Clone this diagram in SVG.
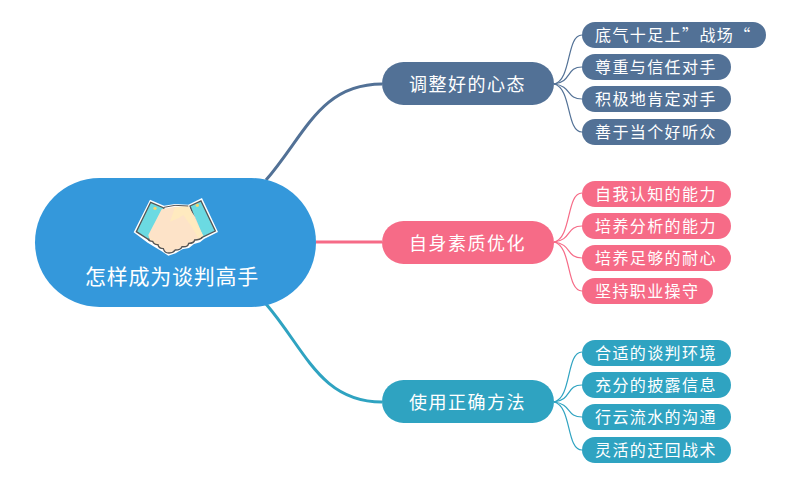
<svg xmlns="http://www.w3.org/2000/svg" width="800" height="483" viewBox="0 0 800 483">
<style>
text{font-family:"Noto Sans CJK SC","Noto Sans",sans-serif;fill:#fff;dominant-baseline:central}
.m{font-size:18px;letter-spacing:1.5px}.s{font-size:16px;letter-spacing:1.4px}.r{font-size:21px;letter-spacing:.75px}
.c path{fill:none}
.a{stroke:#527196}.b{stroke:#f66b87}.d{stroke:#2fa3c1}
.A{fill:#527196}.B{fill:#f66b87}.D{fill:#2fa3c1}
</style>
<rect width="800" height="483" fill="#fff"/>
<g id="connectors" class="c">
<path class="a" stroke-width="3" d="M266 180C305 135 320 84 382 84"/>
<path class="b" stroke-width="3" d="M316 242H382"/>
<path class="d" stroke-width="3" d="M266 304C305 349 320 402 382 402"/>
<g class="a" stroke-width="1.2"><path d="M554 84C572 80 566 35 582 35"/><path d="M554 84C572 82 566 67 582 67"/><path d="M554 84C572 86 566 99 582 99"/><path d="M554 84C572 88 566 132 582 132"/></g>
<g class="b" stroke-width="1.2"><path d="M554 242C572 238 566 193 582 193"/><path d="M554 242C572 240 566 226 582 226"/><path d="M554 242C572 244 566 258 582 258"/><path d="M554 242C572 246 566 291 582 291"/></g>
<g class="d" stroke-width="1.2"><path d="M554 402C572 398 566 352 582 352"/><path d="M554 402C572 400 566 385 582 385"/><path d="M554 402C572 404 566 417 582 417"/><path d="M554 402C572 406 566 450 582 450"/></g>
</g>
<g id="root">
<rect x="35" y="178" width="281" height="129" rx="64.5" fill="#3498db"/>
<g transform="translate(120 190) scale(.3333)">
<path d="M90 29L132 47 165 42 205 44 246 24 294 126 252 147 240 157 222 162 207 174 187 178 167 190 145 197 125 184 105 172 83 158 41 127Z" fill="#fff"/>
<path d="M92 37L132 54 88 150 49 125Z" fill="#6bdae2" stroke="#555" stroke-width="4"/>
<path d="M243 33L286 123 245 143 210 48Z" fill="#6bdae2" stroke="#555" stroke-width="4"/>
<path d="M125 58L165 50 205 50 225 80 248 135 238 148 222 155 205 167 185 171 165 183 146 189 128 177 108 165 90 152 85 135Z" fill="#fde3c8"/>
<path d="M150 95L165 52 205 48 230 100 250 137 236 146 215 110 190 75 175 85Z" fill="#ffeabf"/>
<path d="M85 135L110 165 125 172 100 150Z" fill="#ffeabf"/>
<path d="M84 146Q86 154 98 154Q102 165 114 164Q116 176 130 176Q134 190 148 189Q160 189 166 180Q182 180 186 170Q204 172 206 160Q222 160 224 150Q240 150 248 142" fill="none" stroke="#555" stroke-width="4"/>
<path d="M132 52L165 46 205 48" fill="none" stroke="#555" stroke-width="3"/>
<circle cx="105" cy="55" r="5" fill="#f5d76e"/><circle cx="232" cy="46" r="5" fill="#f5d76e"/>
</g>
<text class="r" x="85" y="275">怎样成为谈判高手</text>
</g>
<g id="n1"><rect class="A" x="382" y="62" width="172" height="43" rx="21.5"/><text class="m" x="409" y="83">调整好的心态</text></g>
<g id="n2"><rect class="B" x="382" y="221" width="172" height="43" rx="21.5"/><text class="m" x="409" y="242">自身素质优化</text></g>
<g id="n3"><rect class="D" x="382" y="380" width="172" height="43" rx="21.5"/><text class="m" x="409" y="401">使用正确方法</text></g>
<g id="a1"><rect class="A" x="582" y="22" width="184" height="26" rx="13"/><text class="s" x="595" y="34">底气十足上”战场“</text></g>
<g id="a2"><rect class="A" x="582" y="54" width="149" height="26" rx="13"/><text class="s" x="595" y="66">尊重与信任对手</text></g>
<g id="a3"><rect class="A" x="582" y="86" width="149" height="26" rx="13"/><text class="s" x="595" y="98">积极地肯定对手</text></g>
<g id="a4"><rect class="A" x="582" y="119" width="149" height="26" rx="13"/><text class="s" x="595" y="131">善于当个好听众</text></g>
<g id="b1"><rect class="B" x="582" y="181" width="149" height="26" rx="13"/><text class="s" x="595" y="193">自我认知的能力</text></g>
<g id="b2"><rect class="B" x="582" y="213" width="149" height="26" rx="13"/><text class="s" x="595" y="225">培养分析的能力</text></g>
<g id="b3"><rect class="B" x="582" y="245" width="149" height="26" rx="13"/><text class="s" x="595" y="257">培养足够的耐心</text></g>
<g id="b4"><rect class="B" x="582" y="278" width="131" height="26" rx="13"/><text class="s" x="595" y="290">坚持职业操守</text></g>
<g id="c1"><rect class="D" x="582" y="340" width="149" height="26" rx="13"/><text class="s" x="595" y="352">合适的谈判环境</text></g>
<g id="c2"><rect class="D" x="582" y="372" width="149" height="26" rx="13"/><text class="s" x="595" y="384">充分的披露信息</text></g>
<g id="c3"><rect class="D" x="582" y="404" width="149" height="26" rx="13"/><text class="s" x="595" y="416">行云流水的沟通</text></g>
<g id="c4"><rect class="D" x="582" y="437" width="149" height="26" rx="13"/><text class="s" x="595" y="449">灵活的迂回战术</text></g>
</svg>
